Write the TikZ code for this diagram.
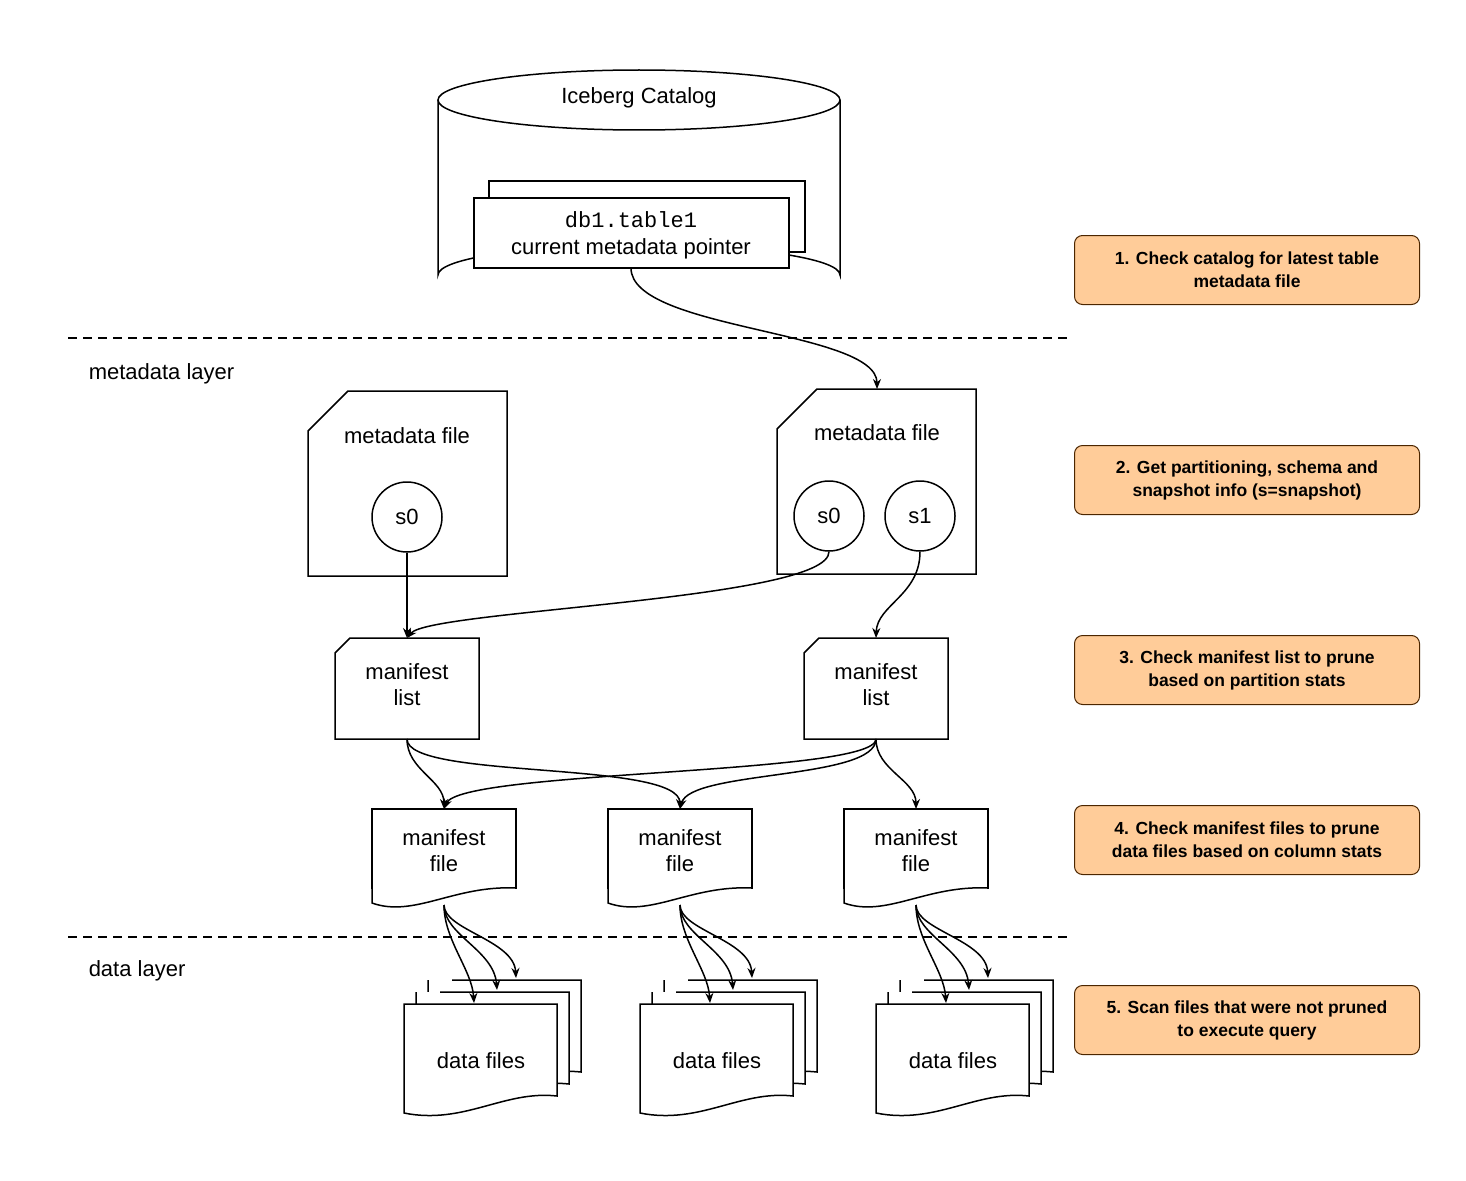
\documentclass[tikz,border=0pt]{standalone}
\usepackage{fontspec}
\setmainfont{Liberation Sans}
\newfontfamily\monof{Liberation Mono}
\usetikzlibrary{arrows.meta}
\begin{document}
\begin{tikzpicture}[x=1pt,y=-1pt,line width=1.5pt,
  lbl/.style={font=\fontsize{22}{26}\selectfont,align=center,inner sep=0pt},
  note/.style={draw=black!70!orange,fill=orange!40!white,rounded corners=8pt,minimum width=345pt,minimum height=69pt,font=\bfseries\fontsize{17.5}{23}\selectfont,align=center,line width=1pt},
  arr/.style={-{Stealth[length=10pt,width=8pt]}},
  snap/.style={draw,circle,minimum size=70pt,inner sep=0pt,font=\fontsize{22}{26}\selectfont}]
\useasboundingbox (0,0) rectangle (1466,1180);
% catalog cylinder
\draw[fill=white] (438,100) -- (438,275) arc[start angle=180,end angle=360,x radius=201,y radius=30] -- (840,100);
\draw[fill=white] (639,100) ellipse[x radius=201,y radius=30];
\node[lbl] (cat) at (639,98) {Iceberg Catalog};
\draw[fill=white] (489,181) rectangle (805,252);
\draw[fill=white] (474,198) rectangle (789,268);
\node[inner sep=0pt,font=\monof\fontsize{22}{26}\selectfont] (db) at (631,220) {db1.table1};
\node[lbl] (ptr) at (631,249) {current metadata pointer};
\coordinate (ptrb) at (631,268);
% layers
\draw[dash pattern=on 9pt off 6pt] (68,338) -- (1072,338);
\draw[dash pattern=on 9pt off 6pt] (68,937) -- (1072,937);
\node[lbl,anchor=west] (ml) at (88,374) {metadata layer};
\node[lbl,anchor=west] (dl) at (88,971) {data layer};
% metadata files
\draw (348,391) -- (507,391) -- (507,576) -- (308,576) -- (308,431) -- cycle;
\node[lbl] (mdA) at (407,436) {metadata file};
\node[snap] (s0a) at (407,517) {s0};
\draw (817,389) -- (976,389) -- (976,574) -- (777,574) -- (777,429) -- cycle;
\node[lbl] (mdB) at (877,433) {metadata file};
\coordinate (mdBt) at (877,389);
\node[snap] (s0b) at (829,516) {s0};
\node[snap] (s1b) at (920,516) {s1};
% manifest lists
\draw (350,638) -- (479,638) -- (479,739) -- (335,739) -- (335,653) -- cycle;
\node[lbl] (mlA) at (407,685) {manifest\\list};
\coordinate (mlAt) at (407,638); \coordinate (mlAb) at (407,739);
\draw (819,638) -- (948,638) -- (948,739) -- (804,739) -- (804,653) -- cycle;
\node[lbl] (mlB) at (876,685) {manifest\\list};
\coordinate (mlBt) at (876,638); \coordinate (mlBb) at (876,739);
% manifest files
\foreach \i/\x in {1/444,2/680,3/916}{
  \draw (\x-72,809) rectangle (\x+72,888);
  \draw[fill=white,draw=none] (\x-71,887) rectangle (\x+71,889);
  \draw (\x-72,809) -- (\x-72,903) .. controls (\x-30,918) and (\x+10,885) .. (\x+72,888) -- (\x+72,809) -- cycle;
  \node[lbl] (mf\i) at (\x,851) {manifest\\file};
  \coordinate (mf\i t) at (\x,809);
  \coordinate (mf\i b) at (\x,905);
  \foreach \k in {2,1}{
    \draw[fill=white] (\x-16+12*\k,1004-12*\k) -- (\x+113+12*\k,1004-12*\k) -- (\x+113+12*\k,1096-12*\k)
      .. controls (\x+60+12*\k,1090-12*\k) and (\x+20+12*\k,1125-12*\k) .. (\x-40+12*\k,1113-12*\k) -- (\x-40+12*\k,1004-12*\k);
  }
  \draw[fill=white] (\x-40,1004) -- (\x+113,1004) -- (\x+113,1096) .. controls (\x+60,1090) and (\x+20,1125) .. (\x-40,1113) -- cycle;
  \node[lbl] (df\i) at (\x+37,1061) {data files};
  \coordinate (d\i a) at (\x+30,1003);
  \coordinate (d\i b) at (\x+53,990);
  \coordinate (d\i c) at (\x+72,978);
  \draw[arr] (mf\i b) .. controls (\x,940) and (\x+28,970) .. (d\i a);
  \draw[arr] (mf\i b) .. controls (\x,935) and (\x+50,950) .. (d\i b);
  \draw[arr] (mf\i b) .. controls (\x,930) and (\x+70,940) .. (d\i c);
}
% connectors
\draw[arr] (ptrb) .. controls (631,330) and (877,330) .. (mdBt);
\draw[arr] (s0a) -- (mlAt);
\draw[arr] (s0b.south) .. controls (829,600) and (430,610) .. (mlAt);
\draw[arr] (s1b.south) .. controls (920,595) and (877,605) .. (mlBt);
\draw[arr] (mlAb) .. controls (407,770) and (444,780) .. (mf1t);
\draw[arr] (mlAb) .. controls (407,780) and (680,760) .. (mf2t);
\draw[arr] (mlBb) .. controls (876,775) and (460,770) .. (mf1t);
\draw[arr] (mlBb) .. controls (876,780) and (690,770) .. (mf2t);
\draw[arr] (mlBb) .. controls (876,770) and (916,780) .. (mf3t);
% notes
\node[note] (n1) at (1247,270) {1. Check catalog for latest table\\metadata file};
\node[note] (n2) at (1247,480) {2. Get partitioning, schema and\\snapshot info (s=snapshot)};
\node[note] (n3) at (1247,670) {3. Check manifest list to prune\\based on partition stats};
\node[note] (n4) at (1247,840) {4. Check manifest files to prune\\data files based on column stats};
\node[note] (n5) at (1247,1020) {5. Scan files that were not pruned\\to execute query};
\end{tikzpicture}
\end{document}
